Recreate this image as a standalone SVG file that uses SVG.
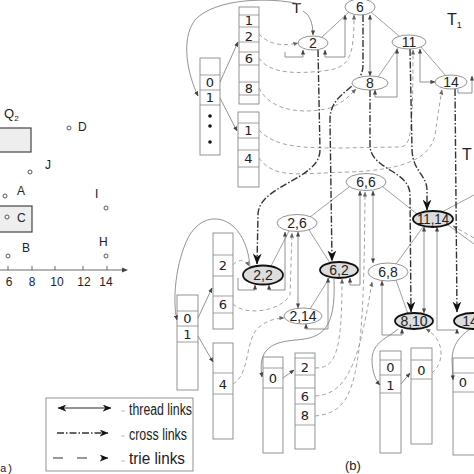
<svg xmlns="http://www.w3.org/2000/svg" width="474" height="474" viewBox="0 0 474 474">
<style>
.bg{fill:#fff}
.box{fill:#fff;stroke:#888;stroke-width:0.9}
.sep{stroke:#888;stroke-width:0.8}
.cell{font-family:"DejaVu Sans",sans-serif;font-size:13px;fill:#222;text-anchor:middle}
.nd{fill:#fff;stroke:#888;stroke-width:0.9}
.nh{fill:#ddd;stroke:#111;stroke-width:1.8}
.nt{font-family:"Liberation Sans",Arial,sans-serif;font-size:14px;fill:#222;text-anchor:middle}
.edge{stroke:#888;stroke-width:0.8;fill:none}
.thr{stroke:#777;stroke-width:0.8;fill:none}
.trie{stroke:#999;stroke-width:0.9;fill:none;stroke-dasharray:4,3}
.cross{stroke:#333;stroke-width:1.4;fill:none;stroke-dasharray:7,2,1.5,2}
.lbl{font-family:"Liberation Sans",Arial,sans-serif;fill:#222}
.pt{fill:#fff;stroke:#444;stroke-width:0.9}
.qr{fill:#eee;stroke:#444;stroke-width:1.2}
</style>
<defs>
<marker id="ta" viewBox="0 0 6 6" refX="5.5" refY="3" markerWidth="5" markerHeight="5" orient="auto-start-reverse" markerUnits="userSpaceOnUse"><path d="M0,0.5 L6,3 L0,5.5 Z" fill="#444"/></marker>
<marker id="da" viewBox="0 0 6 6" refX="5.5" refY="3" markerWidth="5" markerHeight="5" orient="auto" markerUnits="userSpaceOnUse"><path d="M0,0.5 L6,3 L0,5.5 Z" fill="#666"/></marker>
<marker id="ca" viewBox="0 0 10 8" refX="9.5" refY="4" markerWidth="11" markerHeight="9" orient="auto" markerUnits="userSpaceOnUse"><path d="M0,0 L10,4 L0,8 L3,4 Z" fill="#111"/></marker>
<marker id="la" viewBox="0 0 10 8" refX="9.5" refY="4" markerWidth="9" markerHeight="7" orient="auto-start-reverse" markerUnits="userSpaceOnUse"><path d="M0,0 L10,4 L0,8 L3,4 Z" fill="#111"/></marker>
</defs>
<rect class="bg" x="0" y="0" width="474" height="474"/>

<!-- (a) part -->
<g id="panel-a">
<rect class="qr" x="-2" y="128" width="33" height="24"/>
<text class="lbl" x="4" y="118" font-size="13">Q<tspan font-size="8" dy="3">2</tspan></text>
<circle class="pt" cx="69" cy="128" r="2"/><text class="lbl" x="78" y="131" font-size="12">D</text>
<circle class="pt" cx="30" cy="172" r="2"/><text class="lbl" x="45" y="169" font-size="12">J</text>
<circle class="pt" cx="5" cy="196" r="2"/><text class="lbl" x="17" y="195" font-size="12">A</text>
<rect class="qr" x="-2" y="206" width="34" height="26"/>
<circle class="pt" cx="7" cy="217" r="2"/><text class="lbl" x="17" y="222" font-size="12">C</text>
<text class="lbl" x="95" y="198" font-size="12">I</text><circle class="pt" cx="106" cy="208" r="2"/>
<text class="lbl" x="22" y="252" font-size="12">B</text><circle class="pt" cx="8" cy="256" r="2"/>
<text class="lbl" x="99" y="246" font-size="12">H</text><circle class="pt" cx="106" cy="256" r="2"/>
<line x1="0" y1="270" x2="124" y2="270" stroke="#444" stroke-width="0.8"/>
<path d="M128,270 L122,267.5 L122,272.5 Z" fill="#444"/>
<g stroke="#444" stroke-width="0.8">
<line x1="8" y1="266" x2="8" y2="270"/><line x1="32" y1="266" x2="32" y2="270"/><line x1="55" y1="266" x2="55" y2="270"/><line x1="83" y1="266" x2="83" y2="270"/><line x1="107" y1="266" x2="107" y2="270"/>
</g>
<g class="lbl" font-size="12" text-anchor="middle">
<text x="9" y="286">6</text><text x="32" y="286">8</text><text x="57" y="286">10</text><text x="84" y="286">12</text><text x="106" y="286">14</text>
</g>
<text x="0" y="472" font-family="Liberation Mono,monospace" font-size="11" fill="#222">a)</text>
</g>

<!-- labels -->
<text class="lbl" x="292" y="13" font-size="15">T</text>
<text class="lbl" x="447" y="25" font-size="16">T<tspan font-size="9" dy="3">1</tspan></text>
<text class="lbl" x="462" y="160" font-size="16">T</text>
<text class="lbl" x="345" y="470" font-size="13">(b)</text>

<!-- arrays -->
<g id="arrA">
<rect class="box" x="200" y="58" width="20" height="97"/>
<path class="sep" d="M200,75H220M200,90H220M200,105H220"/>
<text class="cell" x="210" y="87">0</text><text class="cell" x="210" y="102">1</text>
<circle cx="210" cy="116" r="1.8" fill="#111"/><circle cx="210" cy="126" r="1.8" fill="#111"/><circle cx="210" cy="142" r="1.8" fill="#111"/>
</g>
<g id="arrB">
<rect class="box" x="239" y="7" width="20" height="97"/>
<path class="sep" d="M239,15H259M239,27H259M239,42H259M239,52H259M239,65H259M239,82H259M239,95H259"/>
<text class="cell" x="249" y="25" font-size="10.5">1</text><text class="cell" x="249" y="40.5" font-size="10.5">2</text><text class="cell" x="249" y="63">6</text><text class="cell" x="249" y="93">8</text>
</g>
<g id="arrC">
<rect class="box" x="238" y="112" width="21" height="75"/>
<path class="sep" d="M238,123H259M238,138H259M238,150H259M238,167H259"/>
<text class="cell" x="248.5" y="135">1</text><text class="cell" x="248.5" y="163">4</text>
</g>
<g id="arrD">
<rect class="box" x="177" y="295" width="21" height="95"/>
<path class="sep" d="M177,311H198M177,326H198M177,342H198"/>
<text class="cell" x="187.5" y="323">0</text><text class="cell" x="187.5" y="339">1</text>
</g>
<g id="arrE">
<rect class="box" x="213" y="233" width="20" height="96"/>
<path class="sep" d="M213,255H233M213,276H233M213,296H233M213,313H233"/>
<text class="cell" x="223" y="270">2</text><text class="cell" x="223" y="309">6</text>
</g>
<g id="arrF">
<rect class="box" x="213" y="343" width="20" height="96"/>
<path class="sep" d="M213,373H233M213,394H233"/>
<text class="cell" x="223" y="389">4</text>
</g>
<g id="arrG">
<rect class="box" x="263" y="357" width="20" height="96"/>
<path class="sep" d="M263,368H283M263,388H283"/>
<text class="cell" x="273" y="383">0</text>
</g>
<g id="arrH">
<rect class="box" x="295" y="353" width="20" height="96"/>
<path class="sep" d="M295,358H315M295,375H315M295,388H315M295,404H315M295,425H315"/>
<text class="cell" x="305" y="372">2</text><text class="cell" x="305" y="401">6</text><text class="cell" x="305" y="420">8</text>
</g>
<g id="arrI">
<rect class="box" x="380" y="351" width="21" height="102"/>
<path class="sep" d="M380,360H401M380,375H401M380,393H401"/>
<text class="cell" x="390.5" y="372">0</text><text class="cell" x="390.5" y="390">1</text>
</g>
<g id="arrJ">
<rect class="box" x="411" y="348" width="21" height="96"/>
<path class="sep" d="M411,360H432M411,379H432"/>
<text class="cell" x="421.5" y="375">0</text>
</g>
<g id="arrK">
<rect class="box" x="453" y="358" width="25" height="97"/>
<path class="sep" d="M453,373H478M453,392H478"/>
<text class="cell" x="463" y="387">0</text>
</g>

<!-- connectors -->
<g id="connectors">
<!-- tree edges -->
<path class="edge" d="M349,12L322,37M371,12L399,36M398,48L378,77M421,47L446,76"/>
<path class="edge" d="M349,187L310,217M383,187L417,214M289,231L271,266M309,230L330,263M423,227L396,264M448,225L474,244M330,277L310,309M396,280L408,314M442,212L474,195"/>
<!-- thread links -->
<path class="thr" d="M285,52V57H303V50" marker-end="url(#ta)"/>
<path class="thr" d="M325,50V57H345V15" marker-start="url(#ta)" marker-end="url(#ta)"/>
<path class="thr" d="M370,15V76" marker-start="url(#ta)" marker-end="url(#ta)"/>
<path class="thr" d="M375,90V97H397V49" marker-start="url(#ta)" marker-end="url(#ta)"/>
<path class="thr" d="M420,49V82H435" marker-start="url(#ta)" marker-end="url(#ta)"/>
<path class="thr" d="M458,89V93H472V76" marker-end="url(#ta)"/>
<path class="thr" d="M238,278V290H255V285" marker-end="url(#ta)"/>
<path class="thr" d="M269,285V290H285V232" marker-start="url(#ta)" marker-end="url(#ta)"/>
<path class="thr" d="M298,232V308" marker-start="url(#ta)" marker-end="url(#ta)"/>
<path class="thr" d="M350,278V285H360V191" marker-start="url(#ta)" marker-end="url(#ta)"/>
<path class="thr" d="M373,191V263" marker-start="url(#ta)" marker-end="url(#ta)"/>
<path class="thr" d="M306,324V329H328V278" marker-start="url(#ta)" marker-end="url(#ta)"/>
<path class="thr" d="M382,281V335H402V329" marker-start="url(#ta)" marker-end="url(#ta)"/>
<path class="thr" d="M424,227V313" marker-start="url(#ta)" marker-end="url(#ta)"/>
<path class="thr" d="M437,227V330H457V329" marker-start="url(#ta)" marker-end="url(#ta)"/>
<!-- array pointers -->
<path class="thr" d="M300,4 C270,-3 215,-2 195,20 C180,40 188,75 198,96" marker-end="url(#ta)"/>
<path class="thr" d="M220,82L238,42" marker-end="url(#ta)"/>
<path class="thr" d="M220,98L237,131" marker-end="url(#ta)"/>
<path class="thr" d="M303,11 Q313,16 313,35" marker-end="url(#ta)"/>
<path class="thr" d="M250,267 C246,215 205,205 188,238 C176,262 172,300 177,320" marker-end="url(#ta)"/>
<path class="thr" d="M198,318L212,288" marker-end="url(#ta)"/>
<path class="thr" d="M198,336L213,362" marker-end="url(#ta)"/>
<path class="thr" d="M334,279 C336,330 322,338 296,340 C268,342 258,352 262,377" marker-end="url(#ta)"/>
<path class="thr" d="M283,378L294,370" marker-end="url(#ta)"/>
<path class="thr" d="M398,329 C388,338 372,342 372,360 C372,372 376,381 380,385" marker-end="url(#ta)"/>
<path class="thr" d="M401,384L410,373" marker-end="url(#ta)"/>
<path class="thr" d="M470,329 C460,336 452,345 452,360 L453,380" marker-end="url(#ta)"/>
<!-- trie links -->
<path class="trie" d="M259,34 C270,46 285,46 298,43" marker-end="url(#da)"/>
<path class="trie" d="M259,58 C270,75 300,74 330,70 C350,66 354,55 354,15" marker-end="url(#da)"/>
<path class="trie" d="M259,88 C270,110 300,115 330,108 C345,102 350,95 356,89" marker-end="url(#da)"/>
<path class="trie" d="M259,130 C275,147 300,148 340,148 L400,147 C410,146 413,140 413,50" marker-end="url(#da)"/>
<path class="trie" d="M259,158 C275,180 300,173 350,172 C400,170 430,160 435,135 C438,115 440,100 442,90" marker-end="url(#da)"/>
<path class="trie" d="M233,265 C238,259 245,259 249,266" marker-end="url(#da)"/>
<path class="trie" d="M233,304 C245,316 280,312 290,295 L292,233" marker-end="url(#da)"/>
<path class="trie" d="M233,384 C250,375 245,340 258,328 C266,321 275,318 284,318" marker-end="url(#da)"/>
<path class="trie" d="M315,368 C335,368 342,355 342,279" marker-end="url(#da)"/>
<path class="trie" d="M315,396 C345,394 358,370 372,282" marker-end="url(#da)"/>
<path class="trie" d="M315,416 C355,412 364,385 365,192" marker-end="url(#da)"/>
<path class="trie" d="M432,373 C445,362 445,340 426,329" marker-end="url(#da)"/>
<path class="trie" d="M474,238 L453,226" marker-end="url(#da)"/>
<!-- cross links -->
<path class="cross" d="M318,50 L320,150 C320,180 258,185 258,215 L257,264" marker-end="url(#ca)"/>
<path class="cross" d="M363,15 L363,65 C363,90 330,90 330,120 L332,261" marker-end="url(#ca)"/>
<path class="cross" d="M370,90 L370,145 C370,170 410,170 410,195 L411,312" marker-end="url(#ca)"/>
<path class="cross" d="M410,49 L412,150 C413,172 427,175 427,190 L427,210" marker-end="url(#ca)"/>
<path class="cross" d="M455,89 L457,312" marker-end="url(#ca)"/>
</g>

<!-- top tree nodes -->
<g id="n6"><ellipse class="nd" cx="360" cy="7" rx="15" ry="8"/><text class="nt" x="360" y="12" font-size="13">6</text></g>
<g id="n2"><ellipse class="nd" cx="313" cy="43" rx="15" ry="7"/><text class="nt" x="313" y="48">2</text></g>
<g id="n11"><ellipse class="nd" cx="409" cy="42" rx="17" ry="7"/><text class="nt" x="409" y="47">11</text></g>
<g id="n8"><ellipse class="nd" cx="370" cy="83" rx="18" ry="7"/><text class="nt" x="370" y="88">8</text></g>
<g id="n14"><ellipse class="nd" cx="451" cy="82" rx="16" ry="7"/><text class="nt" x="451" y="87">14</text></g>

<!-- bottom tree nodes -->
<g id="n66"><ellipse class="nd" cx="366" cy="182" rx="20" ry="8.5"/><text class="nt" x="366" y="187">6,6</text></g>
<g id="n26"><ellipse class="nd" cx="297" cy="223" rx="20" ry="8.5"/><text class="nt" x="297" y="228">2,6</text></g>
<g id="n1114"><ellipse class="nh" cx="433" cy="219" rx="20" ry="8"/><text class="nt" x="433" y="224" fill="#555" textLength="32" lengthAdjust="spacingAndGlyphs">11,14</text></g>
<g id="n22"><ellipse class="nh" cx="263" cy="275" rx="20" ry="9.5"/><text class="nt" x="263" y="280">2,2</text></g>
<g id="n62"><ellipse class="nh" cx="339" cy="270" rx="19" ry="8"/><text class="nt" x="339" y="275">6,2</text></g>
<g id="n68"><ellipse class="nd" cx="388" cy="272" rx="20" ry="9"/><text class="nt" x="388" y="277">6,8</text></g>
<g id="n214"><ellipse class="nd" cx="303" cy="316" rx="19" ry="8"/><text class="nt" x="303" y="321">2,14</text></g>
<g id="n810"><ellipse class="nh" cx="414" cy="321" rx="19" ry="8"/><text class="nt" x="414" y="326">8,10</text></g>
<g id="n14b"><ellipse class="nh" cx="473" cy="321" rx="19" ry="8"/><text class="nt" x="470" y="326">14</text></g>

<!-- legend -->
<g id="legend">
<rect x="46" y="398" width="147" height="73" fill="#fff" stroke="#888" stroke-width="0.9"/>
<line x1="58" y1="408" x2="111" y2="408" stroke="#111" stroke-width="0.9" marker-start="url(#la)" marker-end="url(#la)"/>
<line x1="57" y1="433" x2="108" y2="433" stroke="#333" stroke-width="1.3" stroke-dasharray="7,2,1.5,2" marker-end="url(#la)"/>
<line x1="53" y1="458" x2="108" y2="458" stroke="#333" stroke-width="1.1" stroke-dasharray="10,14" marker-end="url(#la)"/>
<g stroke="#aaa" stroke-width="0.8"><line x1="121" y1="411" x2="125" y2="411"/><line x1="121" y1="436" x2="125" y2="436"/><line x1="121" y1="461" x2="125" y2="461"/></g>
<text class="lbl" x="129" y="415" font-size="16" textLength="63" lengthAdjust="spacingAndGlyphs">thread links</text>
<text class="lbl" x="129" y="440" font-size="16" textLength="58" lengthAdjust="spacingAndGlyphs">cross links</text>
<text class="lbl" x="129" y="464" font-size="16" textLength="56" lengthAdjust="spacingAndGlyphs">trie links</text>
</g>
</svg>
